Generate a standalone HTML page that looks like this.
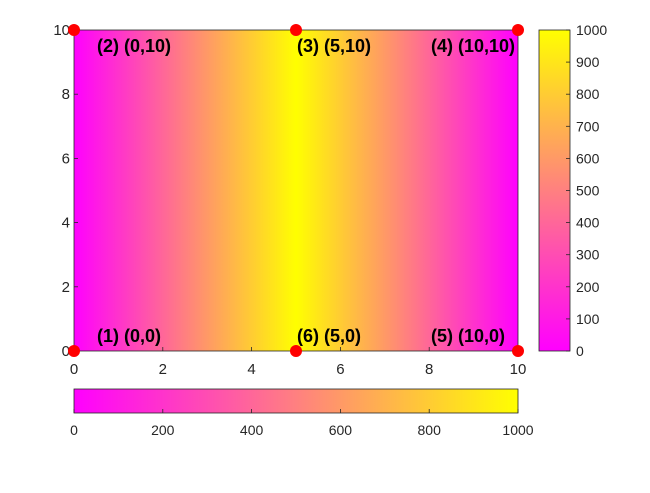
<!DOCTYPE html>
<html><head><meta charset="utf-8"><style>
body{margin:0;background:#fff;}
text{font-family:"Liberation Sans",Arial,sans-serif;}
</style></head><body>
<svg id="c" width="650" height="488" xmlns="http://www.w3.org/2000/svg"></svg>
<script>
const ptX=[0,0,5,10,10,5];
const ptY=[0,10,10,10,0,0];
const ptVal=[0,0,1000,0,0,1000];
const ptLabels=["(1) (0,0)","(2) (0,10)","(3) (5,10)","(4) (10,10)","(5) (10,0)","(6) (5,0)"];
const xTicks=[0,2,4,6,8,10];
const yTicks=[0,2,4,6,8,10];
const cbTicks=[0,100,200,300,400,500,600,700,800,900,1000];
const cbhTicks=[0,200,400,600,800,1000];
const L=74,R=518,T=30,B=351;
const sx=v=>L+(v-0)/10*(R-L);
const sy=v=>B-(v-0)/10*(B-T);
const cmap=v=>{const t=Math.max(0,Math.min(1,v/1000));return `rgb(255,${Math.round(255*t)},${Math.round(255*(1-t))})`;};
const svg=document.getElementById('c');
const NS="http://www.w3.org/2000/svg";
function mk(tag,attrs,parent){const e=document.createElementNS(NS,tag);for(const k in attrs)e.setAttribute(k,attrs[k]);(parent||svg).appendChild(e);return e;}
const defs=mk('defs',{});
const order=[0,5,4];
const g=mk('linearGradient',{id:'fg',x1:'0',x2:'1',y1:'0',y2:'0'},defs);
order.forEach(i=>{mk('stop',{offset:(ptX[i]/10),'stop-color':cmap(ptVal[i])},g);});
const field=mk('rect',{x:L,y:T,width:R-L,height:B-T,fill:'url(#fg)',stroke:'#262626','stroke-width':0.8});


xTicks.forEach(v=>{
 mk('line',{x1:sx(v),x2:sx(v),y1:B,y2:B-4,stroke:'#262626','stroke-width':0.8});
 const t=mk('text',{x:sx(v),y:B+23,'text-anchor':'middle','font-size':15,fill:'#262626'});t.textContent=v;
 
});
yTicks.forEach(v=>{
 mk('line',{x1:L,x2:L+4,y1:sy(v),y2:sy(v),stroke:'#262626','stroke-width':0.8});
 const t=mk('text',{x:L-4,y:sy(v)+5,'text-anchor':'end','font-size':15,fill:'#262626'});t.textContent=v;
 
});
ptX.forEach((x,i)=>{
 const c=mk('circle',{cx:sx(x),cy:sy(ptY[i]),r:6,fill:'#f00'});
 
 const off=x<=0?23:(x>=10?-87:1);
 const tx=sx(x)+off;
 const ty=ptY[i]>=10?sy(ptY[i])+22:sy(ptY[i])-9;
 const t=mk('text',{x:tx,y:ty,'text-anchor':'start','font-size':18,'font-weight':'bold',fill:'#000'});
 t.textContent=ptLabels[i];
 
});
const vg=mk('linearGradient',{id:'vg',x1:'0',x2:'0',y1:'1',y2:'0'},defs);
[0,250,500,750,1000].forEach(v=>mk('stop',{offset:v/1000,'stop-color':cmap(v)},vg));
const cbL=539,cbR=570;
const cy=v=>B-v/1000*(B-T);
const cb=mk('rect',{x:cbL,y:T,width:cbR-cbL,height:B-T,fill:'url(#vg)',stroke:'#262626','stroke-width':0.8});

cbTicks.forEach(v=>{
 mk('line',{x1:cbR,x2:cbR-4,y1:cy(v),y2:cy(v),stroke:'#262626','stroke-width':0.8});
 const t=mk('text',{x:cbR+6,y:cy(v)+5,'font-size':14,fill:'#262626'});t.textContent=v;
 
});
const hg=mk('linearGradient',{id:'hg',x1:'0',x2:'1',y1:'0',y2:'0'},defs);
[0,250,500,750,1000].forEach(v=>mk('stop',{offset:v/1000,'stop-color':cmap(v)},hg));
const hT=389,hB=413;
const hx=v=>L+v/1000*(R-L);
const hb=mk('rect',{x:L,y:hT,width:R-L,height:hB-hT,fill:'url(#hg)',stroke:'#262626','stroke-width':0.8});

cbhTicks.forEach(v=>{
 mk('line',{x1:hx(v),x2:hx(v),y1:hB,y2:hB-4,stroke:'#262626','stroke-width':0.8});
 const t=mk('text',{x:hx(v),y:hB+22,'text-anchor':'middle','font-size':14,fill:'#262626'});t.textContent=v;
 
});
</script>
</body></html>
